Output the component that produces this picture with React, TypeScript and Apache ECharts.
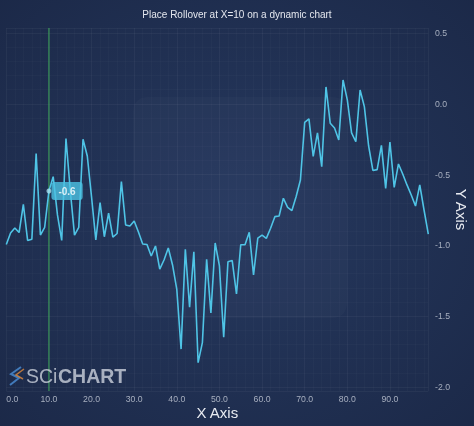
import React, { useEffect, useRef } from "react";
import * as echarts from "echarts";

const TITLE = "Place Rollover at X=10 on a dynamic chart";
const X_NAME = "X Axis";
const Y_NAME = "Y Axis";
const ROLLOVER_X = 10;

// y values at x = 0, 1, 2, ... 99
const yValues: number[] = [
  -0.994, -0.912, -0.877, -0.909, -0.71, -0.965, -0.957, -0.351, -0.927, -0.872,
  -0.616, -0.515, -0.785, -0.965, -0.245, -0.609, -0.927, -0.872, -0.251, -0.369,
  -0.658, -0.962, -0.698, -0.939, -0.773, -0.941, -0.916, -0.55, -0.856, -0.863,
  -0.828, -0.905, -0.99, -0.994, -1.075, -1.004, -1.167, -1.103, -1.018, -1.138,
  -1.311, -1.732, -1.028, -1.437, -1.045, -1.828, -1.687, -1.098, -1.477, -0.983,
  -1.145, -1.649, -1.115, -1.107, -1.343, -0.995, -0.995, -0.907, -1.209, -0.948,
  -0.927, -0.95, -0.879, -0.797, -0.792, -0.667, -0.732, -0.754, -0.655, -0.538,
  -0.132, -0.107, -0.372, -0.206, -0.444, 0.119, -0.138, -0.171, -0.256, 0.168,
  0.027, -0.206, -0.268, 0.097, -0.02, -0.298, -0.471, -0.465, -0.294, -0.597,
  -0.27, -0.59, -0.425, -0.496, -0.573, -0.644, -0.722, -0.573, -0.75, -0.92,
];

const X_MIN = 0;
const X_MAX = 99;
const X_INTERVAL = 10;
const Y_MIN = -2.028;
const Y_MAX = 0.535;

const FONT = "'Liberation Sans', Arial, sans-serif";

export default function App() {
  const ref = useRef<HTMLDivElement>(null);

  useEffect(() => {
    if (!ref.current) return;
    const chart = echarts.init(ref.current, undefined, { renderer: "svg" });
    const lineData = yValues.map((v, i) => [i, v]);
    const rollData = [[ROLLOVER_X, yValues[ROLLOVER_X]]];
    const rollLine = [
      [ROLLOVER_X, Y_MIN],
      [ROLLOVER_X, Y_MAX],
    ];

    chart.setOption({
      animation: false,
      backgroundColor: {
        type: "radial",
        x: 0.5,
        y: 0.5,
        r: 0.75,
        colorStops: [
          { offset: 0, color: "#26395f" },
          { offset: 1, color: "#1b2847" },
        ],
      },
      textStyle: { fontFamily: FONT },
      title: {
        text: TITLE,
        left: "center",
        top: 4,
        textStyle: { color: "#e4e7ee", fontSize: 10, fontWeight: "normal", fontFamily: FONT },
      },
      grid: {
        left: 6.3,
        right: 45.7,
        top: 28,
        bottom: 35,
        containLabel: false,
        outerBoundsMode: "none",
      },
      xAxis: {
        type: "value",
        min: X_MIN,
        max: X_MAX,
        interval: X_INTERVAL,
        axisLine: { show: false },
        axisTick: { show: false },
        axisLabel: {
          color: "#a7afbf",
          fontSize: 8.7,
          margin: 3,
          showMaxLabel: false,
          alignMinLabel: "left",
          formatter: (v: number) => (Math.abs(v / 10 - Math.round(v / 10)) < 1e-6 ? v.toFixed(1) : ""),
        },
        splitLine: { show: true, lineStyle: { color: "rgba(255,255,255,0.045)", width: 1 } },
        minorTick: { show: false, splitNumber: 5 },
        minorSplitLine: { show: true, lineStyle: { color: "rgba(255,255,255,0.018)", width: 1 } },
        name: X_NAME,
        nameLocation: "middle",
        nameGap: 14,
        nameMoveOverlap: false,
        nameTextStyle: { color: "#e8ebf1", fontSize: 15, fontFamily: FONT },
      },
      yAxis: {
        type: "value",
        position: "right",
        min: Y_MIN,
        max: Y_MAX,
        splitNumber: 5,
        axisLine: { show: false },
        axisTick: { show: false },
        axisLabel: {
          color: "#a7afbf",
          fontSize: 8.7,
          margin: 6.7,
          showMinLabel: false,
          showMaxLabel: false,
          formatter: (v: number) => (Math.abs(v * 2 - Math.round(v * 2)) < 1e-6 ? v.toFixed(1) : ""),
        },
        splitLine: { show: true, lineStyle: { color: "rgba(255,255,255,0.045)", width: 1 } },
        minorTick: { show: false, splitNumber: 5 },
        minorSplitLine: { show: true, lineStyle: { color: "rgba(255,255,255,0.018)", width: 1 } },
        name: Y_NAME,
        nameLocation: "middle",
        nameRotate: -90,
        nameGap: 26,
        nameMoveOverlap: false,
        nameTextStyle: { color: "#e8ebf1", fontSize: 15, fontFamily: FONT },
      },
      graphic: [
        {
          type: "rect",
          z: 0,
          silent: true,
          shape: { x: 133, y: 97, width: 214, height: 221, r: 14 },
          style: { fill: "rgba(255,255,255,0.02)" },
        },
        {
          type: "polyline",
          z: 10,
          silent: true,
          shape: { points: [[21, 367], [11, 374], [19, 378], [10, 385]] },
          style: { stroke: "#4b8fd6", lineWidth: 2, fill: "none", opacity: 0.8 },
        },
        {
          type: "polyline",
          z: 10,
          silent: true,
          shape: { points: [[24, 369], [16, 375], [23, 379]] },
          style: { stroke: "#e08a3c", lineWidth: 1.5, fill: "none", opacity: 0.8 },
        },
        {
          type: "text",
          z: 10,
          silent: true,
          x: 26,
          y: 376,
          style: {
            text: "SCi",
            fill: "rgba(215,220,230,0.75)",
            fontSize: 19.5,
            fontFamily: FONT,
            fontWeight: "normal",
            verticalAlign: "middle",
          },
        },
        {
          type: "text",
          z: 10,
          silent: true,
          x: 58,
          y: 376,
          style: {
            text: "CHART",
            fill: "rgba(215,220,230,0.75)",
            fontSize: 19.5,
            fontFamily: FONT,
            fontWeight: "bold",
            verticalAlign: "middle",
          },
        },
      ],
      series: [
        {
          type: "line",
          data: rollLine,
          showSymbol: false,
          symbol: "none",
          silent: true,
          lineStyle: { color: "#3fa85a", width: 1 },
          z: 2,
        },
        {
          type: "line",
          data: lineData,
          showSymbol: false,
          symbol: "none",
          lineStyle: { color: "#4fc4e6", width: 1.6 },
          z: 3,
        },
        {
          type: "scatter",
          data: rollData,
          symbolSize: 5,
          itemStyle: { color: "#a8e2f0" },
          z: 5,
          label: {
            show: true,
            position: "right",
            distance: 0,
            formatter: (p: any) => p.value[1].toFixed(1),
            backgroundColor: "#4cc3e4",
            color: "#ffffff",
            fontWeight: "bold",
            fontSize: 10,
            fontFamily: FONT,
            padding: [4, 7],
            borderRadius: 3,
          },
        },
      ],
    });

    return () => chart.dispose();
  }, []);

  return (
    <div
      ref={ref}
      style={{ position: "fixed", left: 0, top: 0, width: 474, height: 426 }}
    />
  );
}
